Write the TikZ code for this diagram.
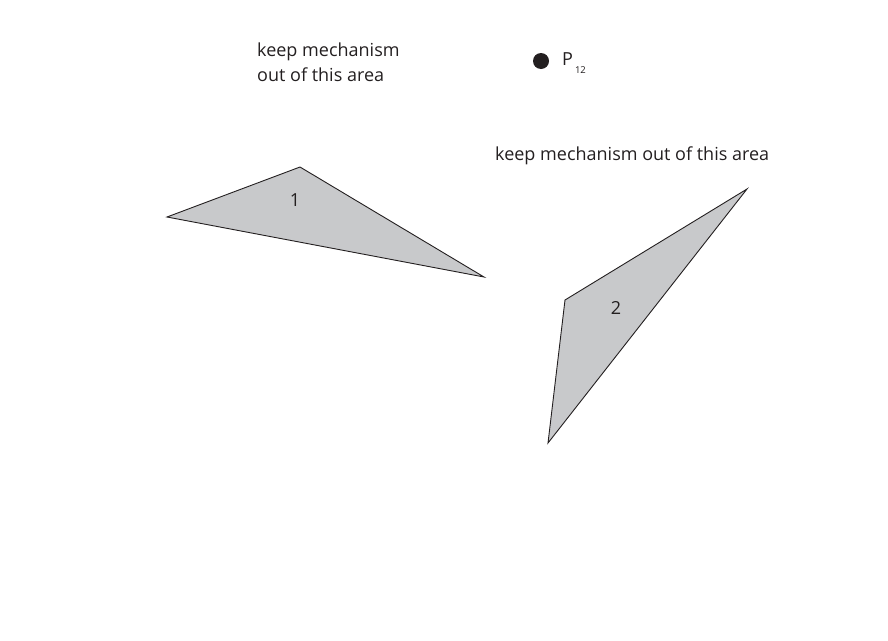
\documentclass[tikz,border=0pt]{standalone}
\usepackage{fontspec}
\setmainfont{Open Sans}
\usepackage{tikz}
\usetikzlibrary{positioning}
\definecolor{linkgray}{RGB}{200,201,203}
\definecolor{inkblack}{RGB}{35,31,32}

\begin{document}
\begin{tikzpicture}[x=1pt, y=-1pt, every node/.style={text=inkblack, inner sep=0pt, font=\fontsize{18}{25}\selectfont}]
        \def\lw{0.9}
        \useasboundingbox (0,0) rectangle (888,640);

        % the two links
        \draw[fill=linkgray, draw=inkblack, line width=\lw pt, line join=miter] (167,217) -- (300,167) -- (484,277) -- cycle;
        \draw[fill=linkgray, draw=inkblack, line width=\lw pt, line join=miter] (565,300) -- (747,189) -- (548,443) -- cycle;
        \node(lab1) at (295,200) {1};
        \node(lab2) at (616,308) {2};

        % pole and forbidden areas
        \node(pole) [circle, fill=inkblack, minimum size=16pt] at (541,61) {};
        \node(plabel) [anchor=base west] at (562,65) {P\hspace{2pt}\raisebox{-8pt}{\fontsize{9.5}{10}\selectfont 12}};
        \node(area1) [anchor=base west, align=left] at (257,81) {keep mechanism\\out of this area};
        \node(area2) [anchor=base west] at (495,160) {keep mechanism out of this area};
    \end{tikzpicture}
\end{document}
